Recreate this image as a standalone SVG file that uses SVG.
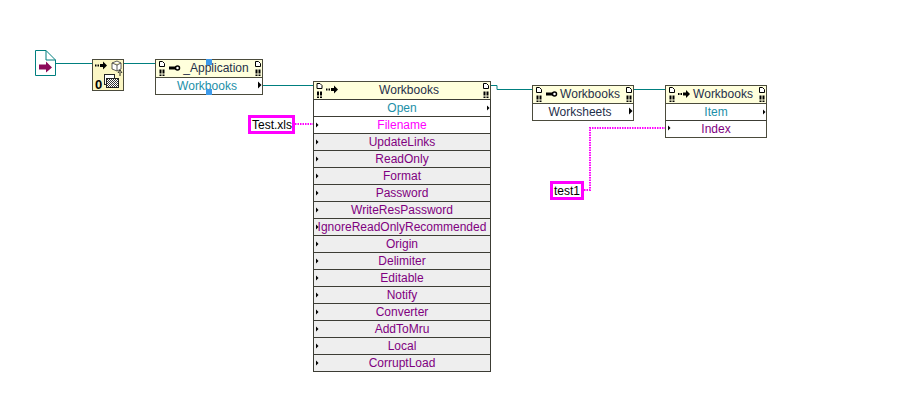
<svg xmlns="http://www.w3.org/2000/svg" xmlns:xlink="http://www.w3.org/1999/xlink" width="902" height="417" viewBox="0 0 902 417">
<style>
text{font-family:"Liberation Sans",Arial,sans-serif;font-size:12px;text-anchor:middle}
.box{fill:#fff;stroke:#4b4b3c;stroke-width:1}
.hd{fill:#ffffdc;stroke:#4b4b3c;stroke-width:1}
.row{fill:#eeeeee;stroke:#3c3c34;stroke-width:1}
.rw{fill:#fff;stroke:#3c3c34;stroke-width:1}
.ob{fill:#1c8fa8}.pu{fill:#800080}.ma{fill:#ff00ff}.dk{fill:#1f2f4a}.in{fill:#000}
.w{fill:none;stroke:#007f7f;stroke-width:1}
.s{fill:none;stroke:#ff00ff;stroke-width:2;stroke-dasharray:1.5 1}
.c{fill:#fff;stroke:#ff00ff;stroke-width:3}
</style>
<defs>
<pattern id="chk" width="2" height="2" patternUnits="userSpaceOnUse"><rect width="2" height="2" fill="#fff"/><rect width="1" height="1" fill="#333"/><rect x="1" y="1" width="1" height="1" fill="#333"/></pattern>
<g id="doc"><path d="M.5 .5H3.500L5.500 2.500V5.500H.5Z" fill="#fff" stroke="#000"/></g>
<g id="warn"><rect x="0" y="0" width="2" height="4"/><rect x="3" y="0" width="2" height="4"/><rect x="0" y="5" width="2" height="1.500"/><rect x="3" y="5" width="2" height="1.500"/></g>
<g id="pair"><use xlink:href="#doc"/><use xlink:href="#warn" x=".5" y="8.500"/></g>
<path id="tri" d="M0 -2.500L2.500 0L0 2.500Z" fill="#000"/>
<path id="trib" d="M0 -3.500L3.500 0L0 3.500Z" fill="#000"/>
<g id="key"><path d="M0 -1.500H7V1.500H0Z" fill="#000"/><circle cx="8.500" cy="0" r="2" fill="#fff" stroke="#000" stroke-width="1.500"/></g>
<g id="arr"><rect x="0" y="-1" width="1.500" height="2"/><rect x="2.500" y="-1" width="1.500" height="2"/><path d="M5 -1.500H8V-4L12 0L8 4V1.500H5Z"/></g>
</defs>
<g id="connectors">
<path class="w" d="M55 63.500H92M124 63.500H155M263 85.500H313M491 85.500H497V89.500H532M634 89.500H665"/>
<path class="s" d="M295 124H313"/>
<path class="s" d="M584 190H590V128H665"/>
<path d="M665 126L668 128L665 130Z" fill="#f00020"/>
</g>
<g id="file-path">
<path d="M35.500 50.500H46L55.500 60V75.500H35.500Z" fill="#fff" stroke="#007f7f"/>
<path d="M46 50.500V60H55.500" fill="none" stroke="#007f7f"/>
<path d="M39 64.500H46V61.500L52 67.500L46 72.500V69.500H39Z" fill="#8c0a5a"/>
</g>
<g id="open-automation">
<rect x="92.500" y="59.500" width="31" height="31" fill="#fbf6c4" stroke="#4b4b3c"/>
<use xlink:href="#arr" x="95" y="65.500"/>
<path d="M112 63L117 61L121 63V69L117 71L112 69Z M112 63L117 65L121 63M117 65V71" fill="#fff" stroke="#333" stroke-width=".8"/>
<text x="98.500" y="89" style="font-size:13px;font-weight:bold" class="in">0</text>
<rect x="104.500" y="74.500" width="10" height="10" fill="#fff" stroke="#222"/>
<rect x="106.500" y="78.500" width="12" height="9" fill="url(#chk)" stroke="#222"/>
<path d="M120 72V76M118 73L120 70L122 73" stroke="#222" fill="none"/>
</g>
<g id="application">
<rect class="box" x="155.500" y="59.500" width="107" height="35"/>
<rect class="hd" x="155.500" y="59.500" width="107" height="18"/>
<use xlink:href="#pair" x="159" y="61"/>
<use xlink:href="#pair" x="255" y="61"/>
<use xlink:href="#key" x="169" y="68"/>
<text class="dk" x="216" y="72">_Application</text>
<text class="ob" x="207" y="90">Workbooks</text>
<use xlink:href="#trib" x="258" y="85"/>
<rect x="206" y="59" width="6" height="6" fill="#3d9aea"/>
<rect x="206" y="89" width="6" height="6" fill="#3d9aea"/>
</g>
<g id="workbooks-open">
<rect class="hd" x="313.500" y="81.500" width="177" height="18"/>
<use xlink:href="#pair" x="316.500" y="83"/>
<use xlink:href="#pair" x="483" y="83"/>
<use xlink:href="#arr" x="326" y="89.500"/>
<text class="dk" x="409" y="94">Workbooks</text>
<rect class="rw" x="313.500" y="99.500" width="177" height="17"/><text class="ob" x="402" y="112">Open</text><use xlink:href="#tri" x="487" y="108"/>
<rect class="rw" x="313.500" y="116.500" width="177" height="17"/><text class="ma" x="402" y="129">Filename</text><use xlink:href="#tri" x="316" y="125"/>
<rect class="row" x="313.500" y="133.500" width="177" height="17"/><text class="pu" x="402" y="146">UpdateLinks</text><use xlink:href="#tri" x="316" y="142"/>
<rect class="row" x="313.500" y="150.500" width="177" height="17"/><text class="pu" x="402" y="163">ReadOnly</text><use xlink:href="#tri" x="316" y="159"/>
<rect class="row" x="313.500" y="167.500" width="177" height="17"/><text class="pu" x="402" y="180">Format</text><use xlink:href="#tri" x="316" y="176"/>
<rect class="row" x="313.500" y="184.500" width="177" height="17"/><text class="pu" x="402" y="197">Password</text><use xlink:href="#tri" x="316" y="193"/>
<rect class="row" x="313.500" y="201.500" width="177" height="17"/><text class="pu" x="402" y="214">WriteResPassword</text><use xlink:href="#tri" x="316" y="210"/>
<rect class="row" x="313.500" y="218.500" width="177" height="17"/><text class="pu" x="402" y="231">IgnoreReadOnlyRecommended</text><use xlink:href="#tri" x="316" y="227"/>
<rect class="row" x="313.500" y="235.500" width="177" height="17"/><text class="pu" x="402" y="248">Origin</text><use xlink:href="#tri" x="316" y="244"/>
<rect class="row" x="313.500" y="252.500" width="177" height="17"/><text class="pu" x="402" y="265">Delimiter</text><use xlink:href="#tri" x="316" y="261"/>
<rect class="row" x="313.500" y="269.500" width="177" height="17"/><text class="pu" x="402" y="282">Editable</text><use xlink:href="#tri" x="316" y="278"/>
<rect class="row" x="313.500" y="286.500" width="177" height="17"/><text class="pu" x="402" y="299">Notify</text><use xlink:href="#tri" x="316" y="295"/>
<rect class="row" x="313.500" y="303.500" width="177" height="17"/><text class="pu" x="402" y="316">Converter</text><use xlink:href="#tri" x="316" y="312"/>
<rect class="row" x="313.500" y="320.500" width="177" height="17"/><text class="pu" x="402" y="333">AddToMru</text><use xlink:href="#tri" x="316" y="329"/>
<rect class="row" x="313.500" y="337.500" width="177" height="17"/><text class="pu" x="402" y="350">Local</text><use xlink:href="#tri" x="316" y="346"/>
<rect class="row" x="313.500" y="354.500" width="177" height="17"/><text class="pu" x="402" y="367">CorruptLoad</text><use xlink:href="#tri" x="316" y="363"/>
</g>
<g id="test-xls">
<rect class="c" x="249.500" y="116.500" width="44" height="16"/>
<text class="in" x="272" y="129">Test.xls</text>
</g>
<g id="workbooks-property">
<rect class="box" x="532.500" y="85.500" width="101" height="35"/>
<rect class="hd" x="532.500" y="85.500" width="101" height="18"/>
<use xlink:href="#pair" x="536" y="87"/>
<use xlink:href="#pair" x="626" y="87"/>
<use xlink:href="#key" x="546" y="94"/>
<text class="dk" x="590" y="98">Workbooks</text>
<text class="dk" x="580" y="116">Worksheets</text>
<use xlink:href="#trib" x="629" y="111"/>
</g>
<g id="workbooks-item">
<rect class="box" x="665.500" y="85.500" width="101" height="52"/>
<rect class="hd" x="665.500" y="85.500" width="101" height="18"/>
<path d="M665.500 120.500H766.500" stroke="#3c3c34"/>
<use xlink:href="#pair" x="669" y="87"/>
<use xlink:href="#pair" x="759" y="87"/>
<use xlink:href="#arr" x="678" y="94"/>
<text class="dk" x="723" y="98">Workbooks</text>
<text class="ob" x="716" y="116">Item</text>
<use xlink:href="#tri" x="763" y="112"/>
<text class="pu" x="716" y="133">Index</text>
<use xlink:href="#tri" x="668" y="128"/>
</g>
<g id="test1">
<rect class="c" x="551.500" y="182.500" width="31" height="16"/>
<text class="in" x="567" y="195">test1</text>
</g>
</svg>
